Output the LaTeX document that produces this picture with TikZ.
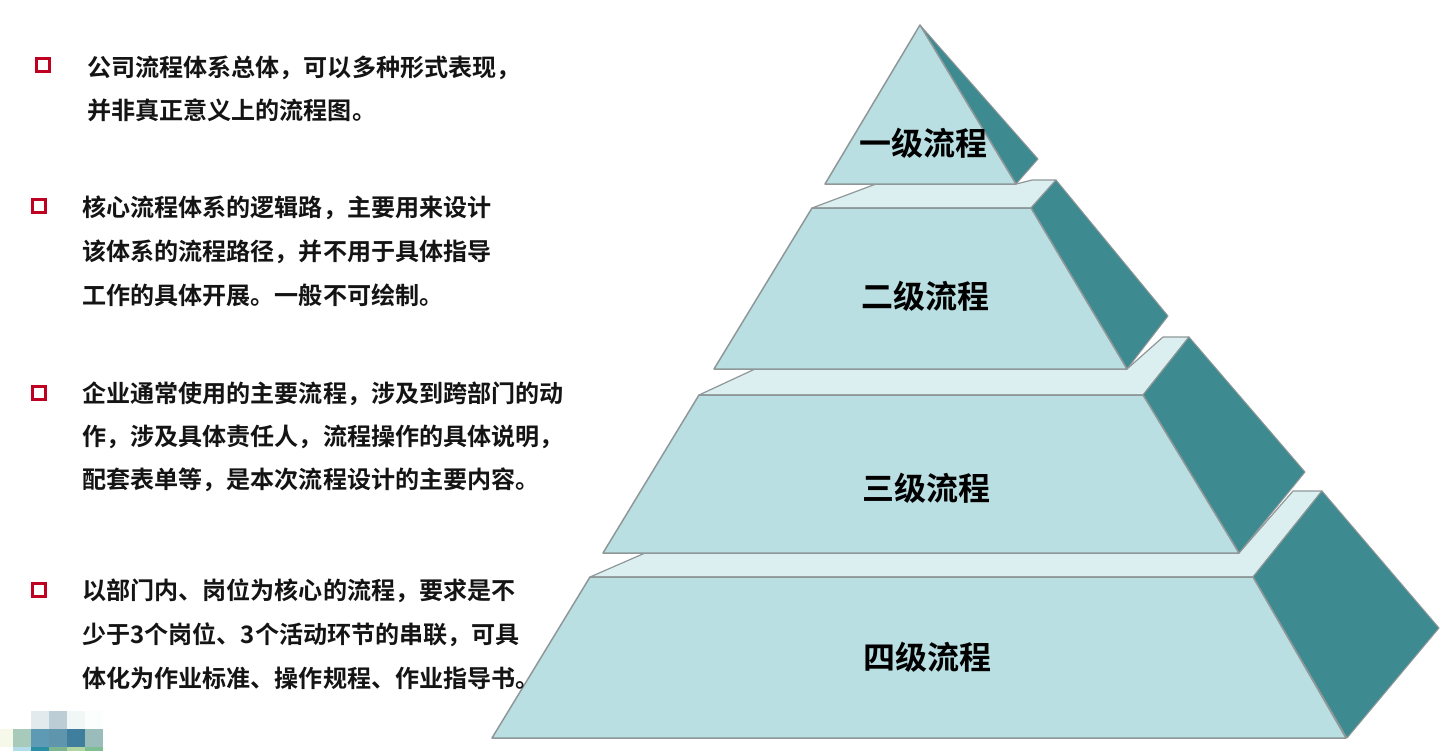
\documentclass[tikz,border=0pt]{standalone}
\usepackage{fontspec}
\setmainfont{Noto Sans CJK SC}[BoldFont={Noto Sans CJK SC Bold}]
\definecolor{frontc}{HTML}{B9DFE2}
\definecolor{sidec}{HTML}{3D8A91}
\definecolor{platec}{HTML}{DBEEF0}
\definecolor{edgec}{HTML}{8F9798}
\definecolor{bulletc}{HTML}{C00020}
\tikzset{
  front/.style={fill=frontc,draw=edgec,line width=0.75pt,line join=round},
  side/.style={fill=sidec,draw=edgec,line width=0.5pt,line join=round},
  plate/.style={fill=platec,draw=edgec,line width=0.6pt,line join=round},
  bul/.style={draw=bulletc,line width=1.4pt,fill=white,minimum size=6.2pt,inner sep=0pt},
  para/.style={anchor=west,inner sep=0pt,font=\fontsize{12.03pt}{14pt}\selectfont\bfseries,text=black!92},
  lvl/.style={inner sep=0pt,font=\fontsize{16pt}{18pt}\selectfont\bfseries,text=black}
}
\begin{document}
\begin{tikzpicture}[x=0.5pt,y=-0.5pt]
\useasboundingbox (0,0) rectangle (1448,751);
\fill[white] (0,0) rectangle (1448,751);
% mosaic
\foreach \xa/\xb/\ya/\yb/\c in {
 31/49/711/729/E2EAEE,49/67/711/729/BCCDD6,67/85/711/729/F1F6F7,85/103/711/729/FCFDFD,
 0/13/729/747/F6F9EA,13/31/729/747/A8CABB,31/49/729/747/5F9AB5,49/67/729/747/6096AD,67/85/729/747/3F7F9D,85/103/729/747/9ABCBB,
 13/31/747/751/B2DDE8,31/49/747/751/2A8FA5,49/67/747/751/7CB58E,67/85/747/751/AFD6A0,85/103/747/751/7FBD95}{
  \definecolor{mc}{HTML}{\c}
  \fill[mc] (\xa,\ya) rectangle (\xb,\yb);
}
% level 4
\draw[plate] (590,577) -- (645,553) -- (1239,553) -- (1293,491) -- (1322,491) -- (1253,577) -- cycle;
\draw[side] (1253,577) -- (1322,491) -- (1439,628) -- (1347,738) -- cycle;
\draw[front] (590,577) -- (1253,577) -- (1346,738) -- (492,738) -- cycle;
% level 3
\draw[plate] (699,395) -- (755,369) -- (1127,369) -- (1163,337) -- (1189,337) -- (1143,395) -- cycle;
\draw[side] (1143,395) -- (1189,337) -- (1305,472) -- (1239,553) -- cycle;
\draw[front] (699,395) -- (1143,395) -- (1239,553) -- (603,553) -- cycle;
% level 2
\draw[plate] (812,208) -- (876,184) -- (1016,184) -- (1032,180) -- (1056,180) -- (1031,208) -- cycle;
\draw[side] (1031,208) -- (1056,180) -- (1168,316) -- (1127,369) -- cycle;
\draw[front] (812,208) -- (1031,208) -- (1127,369) -- (714,369) -- cycle;
% level 1
\draw[side] (920,25) -- (1038,159) -- (1016,184) -- cycle;
\draw[front] (920,25) -- (1016,184) -- (825,184) -- cycle;
% level labels
\node[lvl] (l1) at (923,143) {一级流程};
\node[lvl] (l2) at (925,296) {二级流程};
\node[lvl] (l3) at (926,488) {三级流程};
\node[lvl] (l4) at (927,657) {四级流程};
% bullets
\node[bul] (b1) at (43,65) {};
\node[bul] (b2) at (39,206) {};
\node[bul] (b3) at (39,393) {};
\node[bul] (b4) at (39,590) {};
% paragraphs
\node[para] (p1a) at (87,67.5) {公司流程体系总体，可以多种形式表现，};
\node[para] (p1b) at (87,110.5) {并非真正意义上的流程图。};
\node[para] (p2a) at (82,207.5) {核心流程体系的逻辑路，主要用来设计};
\node[para] (p2b) at (82,251.5) {该体系的流程路径，并不用于具体指导};
\node[para] (p2c) at (82,295.5) {工作的具体开展。一般不可绘制。};
\node[para] (p3a) at (82,393.5) {企业通常使用的主要流程，涉及到跨部门的动};
\node[para] (p3b) at (82,436.5) {作，涉及具体责任人，流程操作的具体说明，};
\node[para] (p3c) at (82,479.5) {配套表单等，是本次流程设计的主要内容。};
\node[para] (p4a) at (82,590.5) {以部门内、岗位为核心的流程，要求是不};
\node[para] (p4b) at (82,634.5) {少于3个岗位、3个活动环节的串联，可具};
\node[para] (p4c) at (82,678.5) {体化为作业标准、操作规程、作业指导书。};
\end{tikzpicture}
\end{document}
